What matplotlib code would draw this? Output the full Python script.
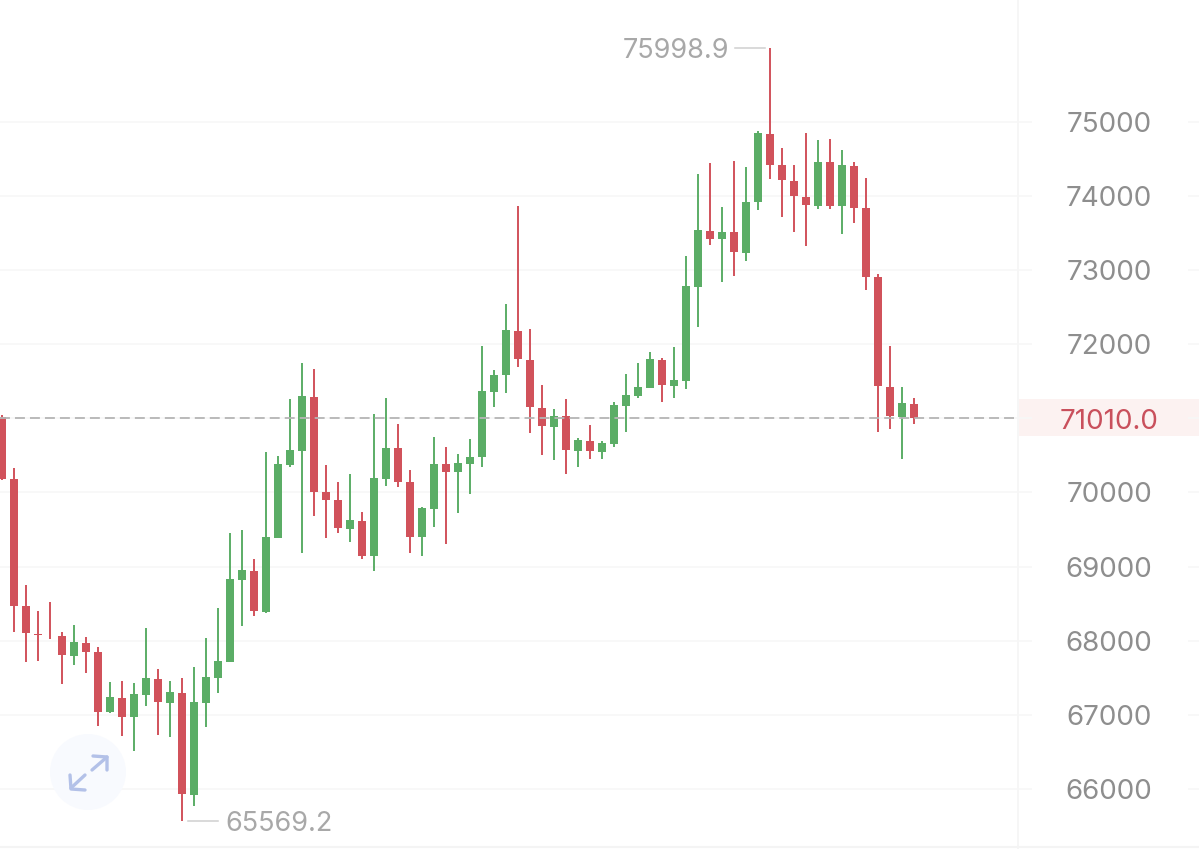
import matplotlib
matplotlib.use("Agg")
import matplotlib.pyplot as plt
from matplotlib.patches import Circle
from matplotlib.transforms import Affine2D

# Candle values, oldest first
open_px = [71020, 70180, 68464, 68091, 68070, 68060, 67798, 67973, 67844, 67034, 67227, 66970, 67267, 67483, 67163, 67294,
           65922, 67159, 67501, 67717, 68819, 68945, 68387, 69382, 70367, 70564, 71289, 70003, 69899, 69508, 69615, 69139,
           70182, 70597, 70146, 69400, 69777, 70385, 70281, 70385, 70475, 71360, 71582, 72184, 71792, 71140, 70888, 71028,
           70560, 70699, 70551, 70655, 71167, 71302, 71414, 71792, 71437, 71509, 72773, 73533, 73421, 73512, 73236, 73920,
           74842, 74420, 74208, 73992, 73870, 74456, 73866, 74410, 73835, 72904, 71428, 71023, 71194]
close_px = [70180, 68468, 68100, 68080, 68057, 67807, 67979, 67844, 67038, 67236, 66975, 67277, 67493, 67173, 67304, 65931,
            67169, 67506, 67726, 68833, 68954, 68397, 69396, 70381, 70570, 71302, 70007, 69899, 69517, 69625, 69139, 70192,
            70605, 70146, 69404, 69787, 70389, 70281, 70394, 70483, 71370, 71588, 72189, 71802, 71150, 70898, 71032, 70570,
            70705, 70556, 70664, 71177, 71316, 71420, 71798, 71451, 71518, 72780, 73539, 73425, 73516, 73242, 73924, 74848,
            74424, 74213, 74001, 73880, 74460, 73870, 74416, 73843, 72908, 71437, 71032, 71204, 71010]
high_px = [71040, 70327, 68752, 68401, 68526, 68122, 68212, 68054, 67911, 67443, 67456, 67425, 68167, 67614, 67456, 67493,
           67641, 68033, 68437, 69449, 69494, 69099, 70551, 70493, 71266, 71744, 71663, 70367, 70138, 70246, 69741, 71055,
           71279, 70929, 70304, 69808, 70753, 70618, 70520, 70718, 71977, 71647, 72540, 73866, 72211, 71447, 71131, 71262,
           70736, 70907, 70699, 71217, 71595, 71744, 71892, 71810, 71968, 73196, 74302, 74443, 73849, 74478, 74397, 74874,
           75998.9, 74645, 74416, 74852, 74757, 74775, 74626, 74456, 74240, 72945, 71973, 71428, 71279]
low_px = [70170, 68122, 67709, 67726, 68019, 67412, 67672, 67560, 66849, 67020, 66718, 66508, 67119, 66728, 66697, 65569.2,
          65769, 66831, 67298, 67717, 68199, 68333, 68373, 69382, 70340, 69188, 69687, 69386, 69458, 69332, 69099, 68937,
          70092, 70078, 69180, 69147, 69539, 69305, 69724, 69980, 70344, 71154, 71347, 71698, 70807, 70510, 70439, 70254,
          70348, 70448, 70456, 70610, 70817, 71275, 71414, 71221, 71275, 71397, 72238, 73344, 72841, 72926, 73124, 73812,
          74231, 73722, 73512, 73331, 73826, 73826, 73489, 73641, 72733, 70821, 70857, 70456, 70925]

y_ticks = [75000, 74000, 73000, 72000, 71000, 70000, 69000, 68000, 67000, 66000]
last_price = 71010.0
max_price = 75998.9
min_price = 65569.2

RED = "#D1525B"
GREEN = "#5BAD66"

fig = plt.figure(figsize=(11.99, 8.49), dpi=100)
ax = fig.add_axes([0, 0, 1, 1])
ax.set_xlim(-2.3 / 12, (1199 - 2.3) / 12)
ax.set_ylim(65189, 76646)
ax.axis("off")

# pixel coordinates for the interface bits that are not data
px = Affine2D().scale(1, -1).translate(0, 849)
plt.rcParams["font.family"] = ["Inter", "DejaVu Sans"]

# price band and right panel edge
ax.fill_between([0.85, 1], [last_price + 250] * 2, [last_price - 250] * 2, transform=ax.get_yaxis_transform(),
                color="#FCF2F1", lw=0, zorder=1)
ax.plot([1018, 1018], [0, 849], transform=px, color="#F4F4F4", lw=1.1, zorder=1)
ax.plot([0, 1199], [847, 847], transform=px, color="#F4F4F4", lw=1.5, zorder=1)

# grid, broken around the axis labels
tr = ax.get_yaxis_transform()
ax.hlines(y_ticks, 0, 1032 / 1199, transform=tr, color="#F7F7F7", lw=1.2, zorder=1)
ax.hlines(y_ticks, 1188 / 1199, 1, transform=tr, color="#F7F7F7", lw=1.2, zorder=1)
for t in y_ticks:
    if t != 71000:
        ax.text(1109 / 1199, t, str(t), transform=tr, ha="center", va="center_baseline", fontsize=20, color="#8E8E8E", zorder=5)

# fullscreen button
ax.add_patch(Circle((88, 772), 38, transform=px, color="#F8FAFE", lw=0, zorder=2))
for xs, ys in [([92, 107], [770, 757]), ([93, 107, 107], [756, 757, 770]),
               ([85, 71], [775, 788]), ([70, 71, 85], [775, 789, 790])]:
    ax.plot(xs, ys, transform=px, color="#B3C1E8", lw=2.4, solid_capstyle="round", zorder=3)

# candles
idx = list(range(len(open_px)))
colors = [GREEN if c >= o else RED for o, c in zip(open_px, close_px)]
ax.vlines(idx, low_px, high_px, colors=colors, lw=1.4, zorder=4)
bottoms = [min(o, c) for o, c in zip(open_px, close_px)]
heights = [abs(o - c) for o, c in zip(open_px, close_px)]
ax.bar(idx, heights, bottom=bottoms, width=8 / 12, color=colors, lw=0, zorder=4)

# last price line
ax.hlines(last_price, 0, 1015 / 1199, transform=tr, color="#B5B5B5", lw=1.3, linestyles=(0, (5.5, 2.8)), zorder=4.5)
ax.text(1109 / 1199, last_price - 15, "71010.0", transform=tr, ha="center", va="center_baseline", fontsize=20, color="#C9505C", zorder=5)

# high and low markers
hi = high_px.index(max_price)
lo = low_px.index(min_price)
ax.plot([hi - 0.44, hi - 2.94], [max_price] * 2, color="#CFCFCF", lw=1.1, zorder=4)
ax.text(hi - 3.45, max_price, "75998.9", ha="right", va="center_baseline", fontsize=19.5, color="#A8A8A8", zorder=5)
ax.plot([lo + 0.475, lo + 2.975], [min_price] * 2, color="#CFCFCF", lw=1.1, zorder=4)
ax.text(lo + 3.56, min_price, "65569.2", ha="left", va="center_baseline", fontsize=19.5, color="#A8A8A8", zorder=5)

fig.savefig("out.png", dpi=100)
